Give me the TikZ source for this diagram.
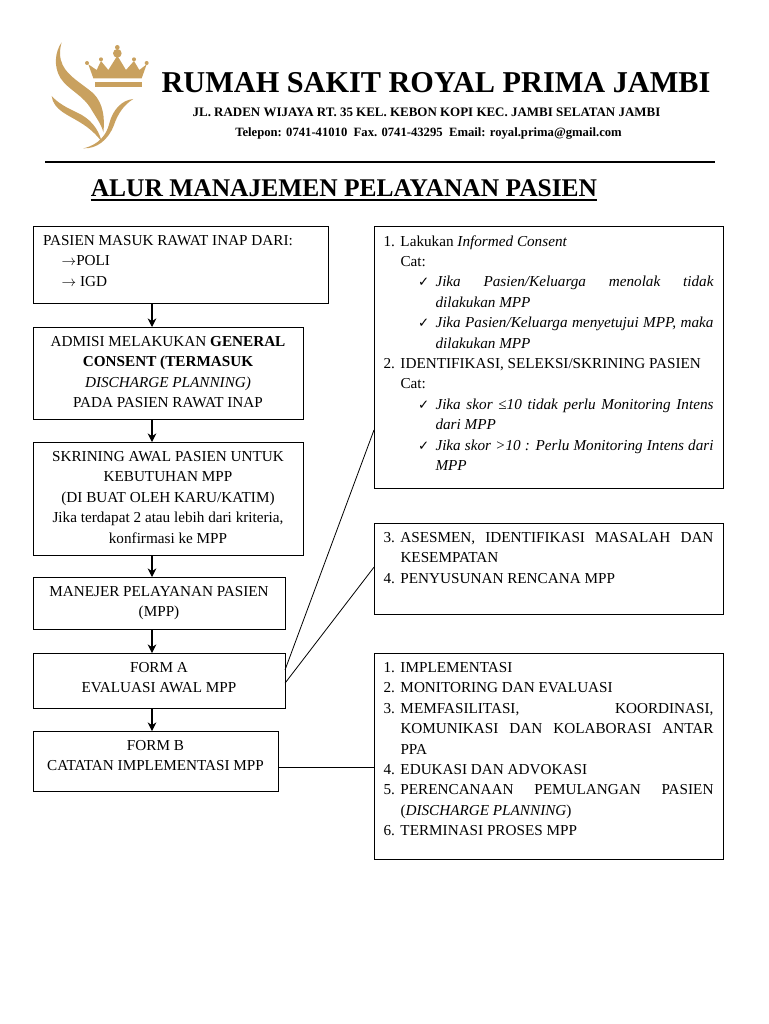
\documentclass[tikz,border=0pt]{standalone}
\usepackage{fontspec}
\setmainfont{Liberation Serif}
\newfontfamily\symfont{DejaVu Sans}
\usetikzlibrary{positioning, calc, arrows.meta}

\definecolor{logogold}{HTML}{C9A15F}

\tikzset{
    flowbox/.style={draw, line width=0.6pt, inner sep=0pt, outer sep=0pt, font=\fontsize{11.4}{15.3}\selectfont},
    flowarrow/.style={-{Stealth[length=6.5pt,width=6.5pt]}, line width=0.8pt},
    linkline/.style={line width=0.6pt},
    headtext/.style={inner sep=0pt, font=\bfseries},
}

% box text, held to the top of the frame
\newcommand{\boxtext}[3]{\parbox[c][#2][t]{#1}{\vspace*{7pt}#3}}
\newcommand{\numline}[2]{\noindent\makebox[12.75pt][l]{#1}#2\par}
\newcommand{\numjust}[2]{\noindent\makebox[12.75pt][l]{#1}\makebox[234.75pt][s]{#2}\par}
\newcommand{\contline}[1]{\noindent\hspace*{12.75pt}#1\par}
\newcommand{\contjust}[1]{\noindent\hspace*{12.75pt}\makebox[234.75pt][s]{#1}\par}
\newcommand{\chkjust}[1]{\noindent\hspace*{26pt}\makebox[13pt][l]{\symfont\fontsize{10}{10}\selectfont ✓}\makebox[208.5pt][s]{\itshape #1}\par}
\newcommand{\subline}[1]{\noindent\hspace*{39pt}\textit{#1}\par}

\begin{document}
\begin{tikzpicture}[x=0.75pt,y=-0.75pt]
    \useasboundingbox (0,0) rectangle (768,1024);

    % Logo: leaves and crown
    \begin{scope}[shift={(40,35)},scale=1/3]
        \fill[logogold] (65,22) .. controls (45,50) and (40,95) .. (62,130)
            .. controls (85,165) and (130,180) .. (155,225)
            .. controls (170,250) and (185,270) .. (190,292)
            .. controls (195,250) and (190,205) .. (160,175)
            .. controls (125,145) and (85,125) .. (68,90)
            .. controls (58,70) and (58,45) .. (65,22) -- cycle;
        \fill[logogold] (35,183) .. controls (40,225) and (85,240) .. (120,262)
            .. controls (150,280) and (170,300) .. (185,320)
            .. controls (175,280) and (150,250) .. (110,232)
            .. controls (80,218) and (55,205) .. (35,183) -- cycle;
        \fill[logogold] (130,340) .. controls (170,342) and (205,315) .. (222,270)
            .. controls (232,240) and (250,210) .. (280,192)
            .. controls (245,195) and (218,225) .. (208,265)
            .. controls (200,300) and (175,330) .. (130,340) -- cycle;

        \fill[logogold] (160,130) -- (145,88) -- (170,105) -- (183,78) -- (205,105)
            -- (232,62) -- (258,105) -- (282,78) -- (298,105) -- (320,88) -- (305,130) -- cycle;
        \fill[logogold] (165,140) rectangle (305,155);
        \fill[logogold] (232,55) circle (13);
        \fill[logogold] (232,37) circle (7);
        \fill[logogold] (141,84) circle (6);
        \fill[logogold] (183,73) circle (6);
        \fill[logogold] (282,73) circle (6);
        \fill[logogold] (320,84) circle (6);
    \end{scope}

    % Letterhead
    \node[headtext, font=\bfseries\fontsize{22.7}{24}\selectfont] (rsname) at (436,83) {RUMAH SAKIT ROYAL PRIMA JAMBI};
    \node[headtext, font=\bfseries\fontsize{9.72}{12}\selectfont] (rsaddr) at (426.5,112) {JL. RADEN WIJAYA RT. 35 KEL. KEBON KOPI KEC. JAMBI SELATAN JAMBI};
    \node[headtext, font=\bfseries\fontsize{9.5}{12}\selectfont] (rsphone) at (428.5,133.5) {Telepon: 0741-41010\ \ Fax. 0741-43295\ \ Email: royal.prima@gmail.com};
    \coordinate (ruleleft) at (45,162);
    \coordinate (ruleright) at (715,162);
    \draw[line width=2pt] (ruleleft) -- (ruleright);

    \node[headtext, font=\bfseries\fontsize{19.1}{20}\selectfont, inner xsep=0pt, inner ysep=2pt] (flowtitle) at (344,188) {ALUR MANAJEMEN PELAYANAN PASIEN};
    \draw[line width=1.8pt] ([yshift=-0.5pt]flowtitle.south west) -- ([yshift=-0.5pt]flowtitle.south east);

    % Left column
    \node[flowbox, minimum width=221.25pt, minimum height=57.75pt] (poli) at (180.5,264.5)
        {\boxtext{206.25pt}{57.75pt}{PASIEN MASUK RAWAT INAP DARI:\par
        \hspace*{14pt}$\rightarrow$POLI\par
        \hspace*{14pt}$\rightarrow$ IGD}};
    \node[flowbox, minimum width=202.5pt, minimum height=69pt] (admisi) at (168,373)
        {\boxtext{195pt}{69pt}{\centering ADMISI MELAKUKAN \textbf{GENERAL}\\
        \textbf{CONSENT (TERMASUK}\\
        \textit{DISCHARGE PLANNING)}\\
        PADA PASIEN RAWAT INAP}};
    \node[flowbox, minimum width=202.5pt, minimum height=84.75pt] (skrining) at (168,498.5)
        {\boxtext{195pt}{84.75pt}{\centering SKRINING AWAL PASIEN UNTUK\\
        KEBUTUHAN MPP\\
        (DI BUAT OLEH KARU/KATIM)\\
        Jika terdapat 2 atau lebih dari kriteria,\\
        konfirmasi ke MPP}};
    \node[flowbox, minimum width=189pt, minimum height=39pt] (manajer) at (159,603)
        {\boxtext{185pt}{39pt}{\centering MANEJER PELAYANAN PASIEN\\ (MPP)}};
    \node[flowbox, minimum width=189pt, minimum height=41.25pt] (forma) at (159,680.5)
        {\boxtext{185pt}{41.25pt}{\centering FORM A\\ EVALUASI AWAL MPP}};
    \node[flowbox, minimum width=183.75pt, minimum height=45pt] (formb) at (155.5,761)
        {\boxtext{180pt}{45pt}{\centering FORM B\\ CATATAN IMPLEMENTASI MPP}};

    % Right column
    \node[flowbox, minimum width=261.75pt, minimum height=196.5pt] (consent) at (548.5,357)
        {\boxtext{247.5pt}{196.5pt}{%
        \numline{1.}{Lakukan \textit{Informed Consent}}
        \contline{Cat:}
        \chkjust{Jika Pasien/Keluarga menolak tidak}
        \subline{dilakukan MPP}
        \chkjust{Jika Pasien/Keluarga menyetujui MPP, maka}
        \subline{dilakukan MPP}
        \numline{2.}{IDENTIFIKASI, SELEKSI/SKRINING PASIEN}
        \contline{Cat:}
        \chkjust{Jika skor ≤10 tidak perlu Monitoring Intens}
        \subline{dari MPP}
        \chkjust{Jika skor >10 : Perlu Monitoring Intens dari}
        \subline{MPP}}};
    \node[flowbox, minimum width=261.75pt, minimum height=68.25pt] (asesmen) at (548.5,568.5)
        {\boxtext{247.5pt}{68.25pt}{%
        \numjust{3.}{ASESMEN, IDENTIFIKASI MASALAH DAN}
        \contline{KESEMPATAN}
        \numline{4.}{PENYUSUNAN RENCANA MPP}}};
    \node[flowbox, minimum width=261.75pt, minimum height=154.5pt] (implement) at (548.5,756)
        {\boxtext{247.5pt}{154.5pt}{%
        \numline{1.}{IMPLEMENTASI}
        \numline{2.}{MONITORING DAN EVALUASI}
        \numjust{3.}{MEMFASILITASI, KOORDINASI,}
        \contjust{KOMUNIKASI DAN KOLABORASI ANTAR}
        \contline{PPA}
        \numline{4.}{EDUKASI DAN ADVOKASI}
        \numjust{5.}{PERENCANAAN PEMULANGAN PASIEN}
        \contline{(\textit{DISCHARGE PLANNING})}
        \numline{6.}{TERMINASI PROSES MPP}}};

    % Flow arrows
    \coordinate (flowx) at (152,0);
    \draw[flowarrow] (poli.south -| flowx) -- (admisi.north -| flowx);
    \draw[flowarrow] (admisi.south -| flowx) -- (skrining.north -| flowx);
    \draw[flowarrow] (skrining.south -| flowx) -- (manajer.north -| flowx);
    \draw[flowarrow] (manajer.south -| flowx) -- (forma.north -| flowx);
    \draw[flowarrow] (forma.south -| flowx) -- (formb.north -| flowx);

    % Links to the right column
    \draw[linkline] ([yshift=7.9pt]forma.east) -- ([yshift=-54.75pt]consent.west);
    \draw[linkline] ([yshift=-2pt]forma.east) -- ([yshift=1pt]asesmen.west);
    \draw[linkline] ([yshift=-4.5pt]formb.east) -- ([yshift=-4.5pt]formb.east -| implement.west);
\end{tikzpicture}
\end{document}
